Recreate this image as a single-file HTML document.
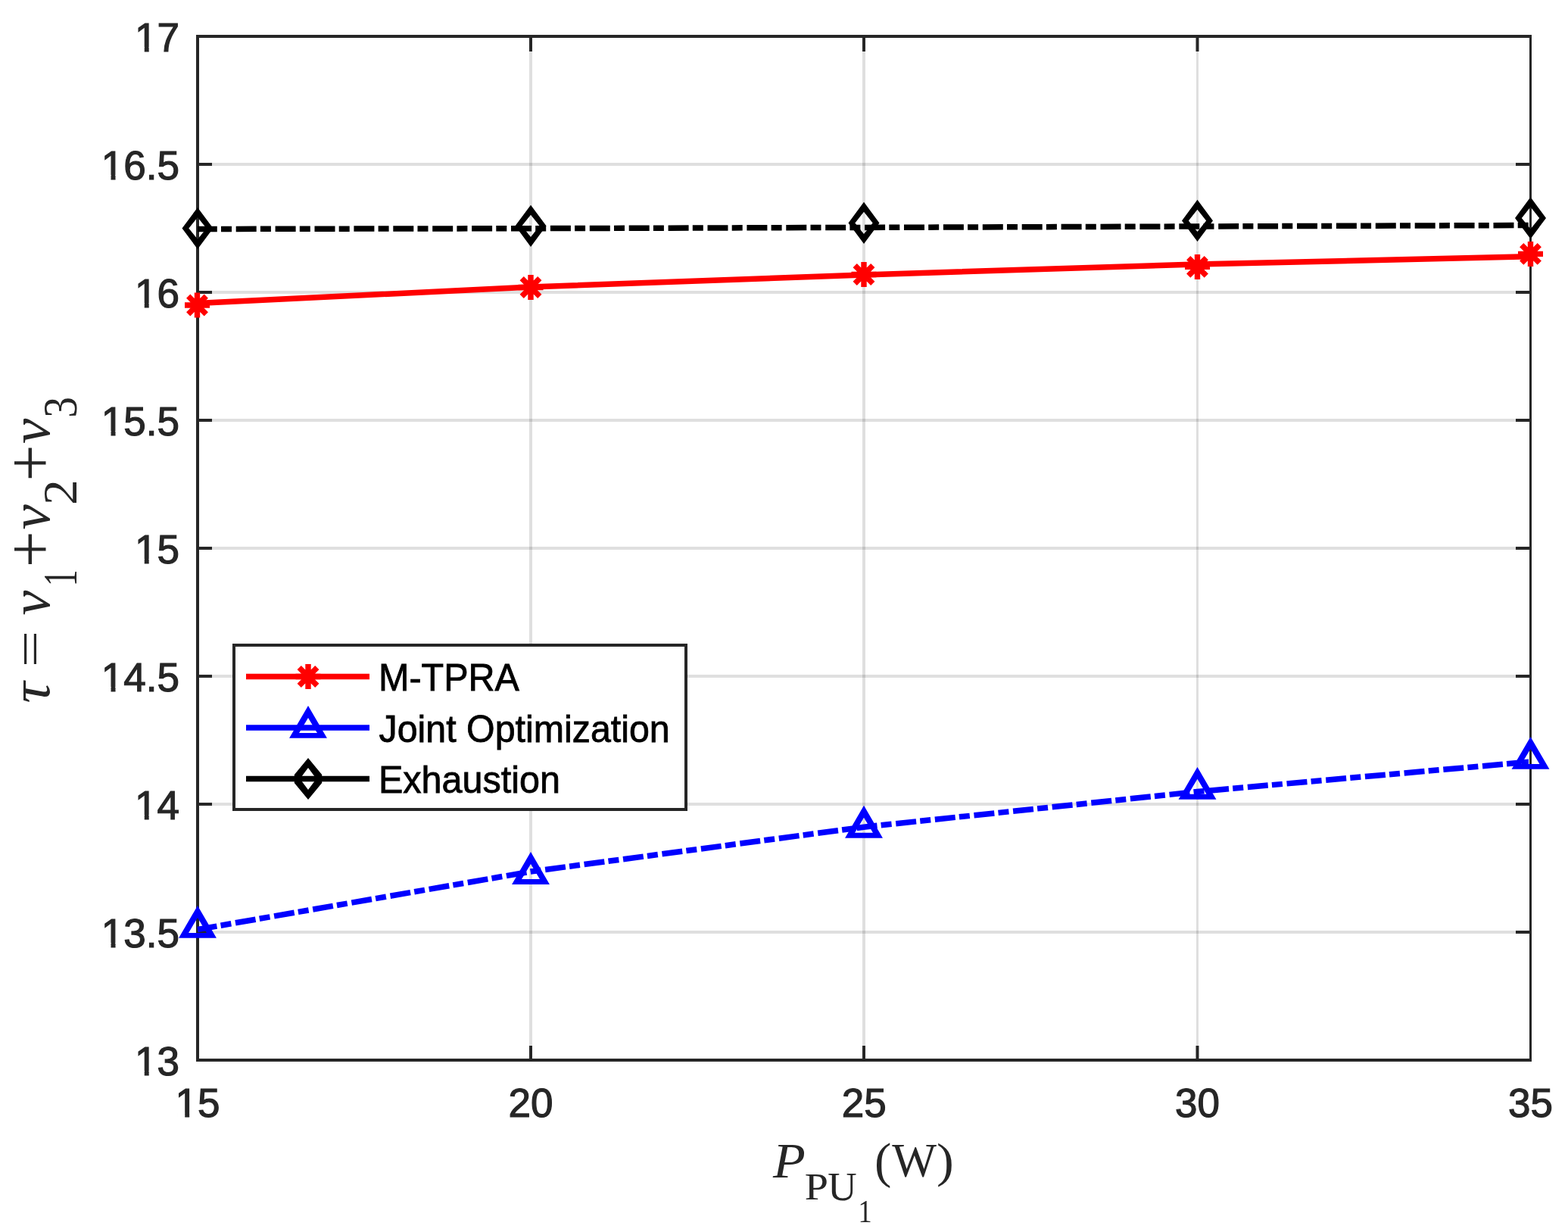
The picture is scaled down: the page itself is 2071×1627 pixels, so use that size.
<!DOCTYPE html>
<html><head><meta charset="utf-8"><title>plot</title>
<style>html,body{margin:0;padding:0;background:#fff;}svg{display:block;}</style>
</head><body>
<svg width="2071" height="1627" viewBox="0 0 2071 1627">
<rect x="0" y="0" width="2071" height="1627" fill="#ffffff"/>
<g stroke="rgb(38,38,38)" stroke-opacity="0.15" stroke-width="4" fill="none">
<path d="M701 50V1398"/>
<path d="M1141 50V1398"/>
<path d="M263 217H2020"/>
<path d="M263 386H2020"/>
<path d="M263 555H2020"/>
<path d="M263 724H2020"/>
<path d="M263 893H2020"/>
<path d="M263 1062H2020"/>
<path d="M263 1231H2020"/>
<path d="M1581.5 50V1398" stroke-width="3"/>
</g>
<path d="M263 217H280 M2002 217H2020 M263 386H280 M2002 386H2020 M263 555H280 M2002 555H2020 M263 724H280 M2002 724H2020 M263 893H280 M2002 893H2020 M263 1062H280 M2002 1062H2020 M263 1231H280 M2002 1231H2020 M701 50V68 M701 1381V1398 M1141 50V68 M1141 1381V1398 M1581.5 50V68 M1581.5 1381V1398" stroke="#262626" stroke-width="4" fill="none"/>
<rect x="259" y="46" width="1764" height="4" fill="#262626"/>
<rect x="259" y="1398" width="1764" height="4" fill="#262626"/>
<rect x="259" y="46" width="4" height="1356" fill="#262626"/>
<rect x="2020" y="46" width="3" height="1356" fill="#262626"/>
<defs><clipPath id="axclip"><rect x="259" y="0" width="1760" height="1627"/></clipPath></defs>
<g clip-path="url(#axclip)">
<path d="M261 400.5 L701 379 L1141 362.9 L1581 349 L2021.5 338.8" stroke="#ff0000" stroke-width="7.5" fill="none" stroke-linejoin="round"/>
<path d="M261 1227.5 L701 1151 L1141 1092.2 L1581 1045.5 L2021.5 1006" stroke="#0000ff" stroke-width="7.5" fill="none" stroke-dasharray="27 5.2 14 5.7" stroke-dashoffset="1.2"/>
<path d="M261 302.5 L701 301.7 L1141 300.4 L1581 299 L2021.5 297.5" stroke="#000000" stroke-width="7.5" fill="none" stroke-dasharray="27 5.2 14 5.7" stroke-dashoffset="1.2"/>
</g>
<path d="M260.5 386.5V419.5 M244.0 403H277.0 M248.7 391.2L272.3 414.8 M248.7 414.8L272.3 391.2" stroke="#ff0000" stroke-width="7.4" fill="none"/>
<path d="M701 363.0V396.0 M684.5 379.5H717.5 M689.2 367.7L712.8 391.3 M689.2 391.3L712.8 367.7" stroke="#ff0000" stroke-width="7.4" fill="none"/>
<path d="M1141 346.0V379.0 M1124.5 362.5H1157.5 M1129.2 350.7L1152.8 374.3 M1129.2 374.3L1152.8 350.7" stroke="#ff0000" stroke-width="7.4" fill="none"/>
<path d="M1581.5 335.9V368.9 M1565.0 352.4H1598.0 M1569.7 340.59999999999997L1593.3 364.2 M1569.7 364.2L1593.3 340.59999999999997" stroke="#ff0000" stroke-width="7.4" fill="none"/>
<path d="M2021.5 318.9V351.9 M2005.0 335.4H2038.0 M2009.7 323.59999999999997L2033.3 347.2 M2009.7 347.2L2033.3 323.59999999999997" stroke="#ff0000" stroke-width="7.4" fill="none"/>
<path d="M261 1196L285.95 1238.80L236.05 1238.80Z M261 1211.90L249.05 1231.90L272.95 1231.90Z" fill="#0000ff" fill-rule="evenodd"/>
<path d="M701 1125.1L725.95 1167.90L676.05 1167.90Z M701 1141.00L689.05 1161.00L712.95 1161.00Z" fill="#0000ff" fill-rule="evenodd"/>
<path d="M1141 1063.85L1165.95 1106.65L1116.05 1106.65Z M1141 1079.75L1129.05 1099.75L1152.95 1099.75Z" fill="#0000ff" fill-rule="evenodd"/>
<path d="M1581.5 1012.9L1606.45 1055.70L1556.55 1055.70Z M1581.5 1028.80L1569.55 1048.80L1593.45 1048.80Z" fill="#0000ff" fill-rule="evenodd"/>
<path d="M2021.5 973L2046.45 1015.80L1996.55 1015.80Z M2021.5 988.90L2009.55 1008.90L2033.45 1008.90Z" fill="#0000ff" fill-rule="evenodd"/>
<path d="M261 273.95L281.5 301.5L261 329.05L240.5 301.5Z M261 286.95L249.35 301.5L261 316.05L272.65 301.5Z" fill="#000000" fill-rule="evenodd"/>
<path d="M701 270.8L721.5 298.35L701 325.90000000000003L680.5 298.35Z M701 283.8L689.35 298.35L701 312.90000000000003L712.65 298.35Z" fill="#000000" fill-rule="evenodd"/>
<path d="M1141 266.84999999999997L1161.5 294.4L1141 321.95L1120.5 294.4Z M1141 279.84999999999997L1129.35 294.4L1141 308.95L1152.65 294.4Z" fill="#000000" fill-rule="evenodd"/>
<path d="M1581.5 263.84999999999997L1602.0 291.4L1581.5 318.95L1561.0 291.4Z M1581.5 276.84999999999997L1569.85 291.4L1581.5 305.95L1593.15 291.4Z" fill="#000000" fill-rule="evenodd"/>
<path d="M2021.5 260.34999999999997L2042.0 287.9L2021.5 315.45L2001.0 287.9Z M2021.5 273.34999999999997L2009.85 287.9L2021.5 302.45L2033.15 287.9Z" fill="#000000" fill-rule="evenodd"/>
<g font-family="'Liberation Sans', Arial, Helvetica, sans-serif" font-size="53" fill="#262626" stroke="#262626" stroke-width="1.2" text-anchor="end">
<clipPath id="c1_1"><path clip-rule="evenodd" d="M168.0 7.5H247.0V87.5H168.0Z M180.58 62.34H190.78V69.00H180.58Z M196.66 62.34H206.44V69.00H196.66Z"/></clipPath>
<text x="237" y="67.5" clip-path="url(#c1_1)">17</text>
<clipPath id="c1_2"><path clip-rule="evenodd" d="M123.8 176.5H247.0V256.5H123.8Z M136.38 231.34H146.57V238.00H136.38Z M152.46 231.34H162.23V238.00H152.46Z"/></clipPath>
<text x="237" y="236.5" clip-path="url(#c1_2)">16.5</text>
<clipPath id="c1_3"><path clip-rule="evenodd" d="M168.0 345.5H247.0V425.5H168.0Z M180.58 400.34H190.78V407.00H180.58Z M196.66 400.34H206.44V407.00H196.66Z"/></clipPath>
<text x="237" y="405.5" clip-path="url(#c1_3)">16</text>
<clipPath id="c1_4"><path clip-rule="evenodd" d="M123.8 514.5H247.0V594.5H123.8Z M136.38 569.34H146.57V576.00H136.38Z M152.46 569.34H162.23V576.00H152.46Z"/></clipPath>
<text x="237" y="574.5" clip-path="url(#c1_4)">15.5</text>
<clipPath id="c1_5"><path clip-rule="evenodd" d="M168.0 683.5H247.0V763.5H168.0Z M180.58 738.34H190.78V745.00H180.58Z M196.66 738.34H206.44V745.00H196.66Z"/></clipPath>
<text x="237" y="743.5" clip-path="url(#c1_5)">15</text>
<clipPath id="c1_6"><path clip-rule="evenodd" d="M123.8 852.5H247.0V932.5H123.8Z M136.38 907.34H146.57V914.00H136.38Z M152.46 907.34H162.23V914.00H152.46Z"/></clipPath>
<text x="237" y="912.5" clip-path="url(#c1_6)">14.5</text>
<clipPath id="c1_7"><path clip-rule="evenodd" d="M168.0 1021.5H247.0V1101.5H168.0Z M180.58 1076.34H190.78V1083.00H180.58Z M196.66 1076.34H206.44V1083.00H196.66Z"/></clipPath>
<text x="237" y="1081.5" clip-path="url(#c1_7)">14</text>
<clipPath id="c1_8"><path clip-rule="evenodd" d="M123.8 1190.5H247.0V1270.5H123.8Z M136.38 1245.34H146.57V1252.00H136.38Z M152.46 1245.34H162.23V1252.00H152.46Z"/></clipPath>
<text x="237" y="1250.5" clip-path="url(#c1_8)">13.5</text>
<clipPath id="c1_9"><path clip-rule="evenodd" d="M168.0 1359.5H247.0V1439.5H168.0Z M180.58 1414.34H190.78V1421.00H180.58Z M196.66 1414.34H206.44V1421.00H196.66Z"/></clipPath>
<text x="237" y="1419.5" clip-path="url(#c1_9)">13</text>
</g>
<g font-family="'Liberation Sans', Arial, Helvetica, sans-serif" font-size="53" fill="#262626" stroke="#262626" stroke-width="1.2" text-anchor="middle">
<clipPath id="c1_10"><path clip-rule="evenodd" d="M221.5 1415.0H300.5V1495.0H221.5Z M234.06 1469.84H244.25V1476.50H234.06Z M250.14 1469.84H259.91V1476.50H250.14Z"/></clipPath>
<text x="261.0" y="1475" clip-path="url(#c1_10)">15</text>
<text x="701.1" y="1475">20</text>
<text x="1141.2" y="1475">25</text>
<text x="1581.4" y="1475">30</text>
<text x="2021.5" y="1475">35</text>
</g>
<g font-family="'Liberation Serif', 'Times New Roman', Times, serif" fill="#262626">
<text transform="matrix(1.0789 0 0 0.9977 1020.90 1555.00)" font-size="65" font-style="italic">P</text>
<text transform="matrix(1.0800 0 0 0.9686 1062.84 1583.90)" font-size="52">P</text>
<text transform="matrix(1.0229 0 0 1.0029 1093.18 1585.10)" font-size="52">U</text>
<text transform="matrix(0.8643 0 0 1.0036 1133.44 1614.00)" font-size="42">1</text>
<text transform="matrix(1.0353 0 0 0.9931 1155.09 1554.69)" font-size="65">(</text>
<text transform="matrix(0.9574 0 0 0.9818 1178.20 1554.42)" font-size="65">W</text>
<text transform="matrix(1.0529 0 0 0.9763 1236.89 1553.93)" font-size="65">)</text>
</g>
<g transform="translate(65.5,926) rotate(-90)" font-family="'Liberation Serif', 'Times New Roman', Times, serif" fill="#262626">
<text transform="matrix(1.0519 0 0 0.9886 -2.80 -0.79)" font-size="75" font-style="italic">τ</text>
<text transform="matrix(1.1429 0 0 0.8474 44.63 -4.79)" font-size="75">=</text>
<text transform="matrix(0.9812 0 0 0.9886 113.62 -0.79)" font-size="75" font-style="italic">ν</text>
<text transform="matrix(0.7333 0 0 1.0538 151.63 35.50)" font-size="60">1</text>
<text transform="matrix(1.1314 0 0 1.1765 176.87 3.81)" font-size="75">+</text>
<text transform="matrix(0.9969 0 0 1.0000 226.40 -0.50)" font-size="75" font-style="italic">ν</text>
<text transform="matrix(1.1250 0 0 1.0538 259.02 35.50)" font-size="60">2</text>
<text transform="matrix(1.1400 0 0 1.1765 290.44 3.81)" font-size="75">+</text>
<text transform="matrix(1.0000 0 0 1.0000 340.00 -0.50)" font-size="75" font-style="italic">ν</text>
<text transform="matrix(0.9240 0 0 1.0538 374.13 35.50)" font-size="60">3</text>
</g>
<rect x="309" y="852" width="597" height="217" fill="#ffffff" stroke="#262626" stroke-width="4"/>
<path d="M325 893.5H488" stroke="#ff0000" stroke-width="7.5"/>
<path d="M325 961H488" stroke="#0000ff" stroke-width="7.5"/>
<path d="M325 1028.5H488" stroke="#000000" stroke-width="7.5"/>
<path d="M407 877.0V910.0 M390.5 893.5H423.5 M395.2 881.7L418.8 905.3 M395.2 905.3L418.8 881.7" stroke="#ff0000" stroke-width="7.4" fill="none"/>
<path d="M407 932L431.95 974.80L382.05 974.80Z M407 947.90L395.05 967.90L418.95 967.90Z" fill="#0000ff" fill-rule="evenodd"/>
<path d="M407 1001.05L425.2 1023.06L425.2 1033.94L407 1055.95L388.8 1033.94L388.8 1023.06Z M407 1013.95L396.16 1028.5L407 1043.05L417.84 1028.5Z" fill="#000000" fill-rule="evenodd"/>
<g font-family="'Liberation Sans', Arial, Helvetica, sans-serif" font-size="49" fill="#000000" stroke="#000000" stroke-width="0.8">
<text transform="translate(500 912) scale(0.99 1.03)">M-TPRA</text>
<text transform="translate(500.5 980) scale(0.987 1.03)">Joint Optimization</text>
<text transform="translate(500 1046.5) scale(0.99 1.03)">Exhaustion</text>
</g>
</svg>
</body></html>
